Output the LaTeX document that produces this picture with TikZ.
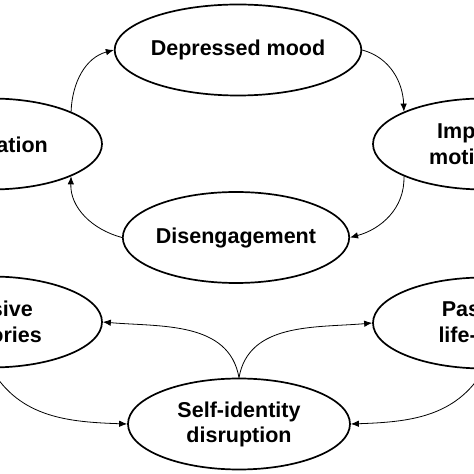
\documentclass[tikz,border=0pt]{standalone}
\usepackage{fontspec}
\setmainfont{Liberation Sans}
\usetikzlibrary{shapes.geometric,arrows.meta}
\tikzset{
  ell/.style={ellipse, draw=black, line width=1.7pt, minimum width=222pt, minimum height=91pt, inner sep=0pt,
    font=\fontsize{21.5}{25}\selectfont\bfseries, align=center},
  lbl/.style={inner sep=0pt, font=\fontsize{21.5}{25}\selectfont\bfseries},
  arr/.style={draw=black, line width=0.8pt, -{Latex[length=8pt,width=6.5pt]}}
}
\begin{document}
\begin{tikzpicture}[x=1pt,y=1pt]
\useasboundingbox (0,0) rectangle (474,474);
\clip (0,0) rectangle (474,474);
\fill[white] (0,0) rectangle (474,474);
% ellipses
\node[ell] (D) at (238,424) {Depressed mood};
\node[ell] (L1) at (-9,330) {};
\node[ell] (R1) at (484,330) {};
\node[ell] (Dis) at (236,236.5) {Disengagement};
\node[ell] (L2) at (-9,152) {};
\node[ell] (R2) at (484,151) {};
\node[ell] (S) at (239,50) {Self-identity\\disruption};
% partial labels
\node[lbl, anchor=east] (L1t) at (48,329) {ation};
\node[lbl, anchor=base west] (R1a) at (437,335) {Imp};
\node[lbl, anchor=base west] (R1b) at (429,309) {moti};
\node[lbl, anchor=base east] (L2a) at (33,157) {sive};
\node[lbl, anchor=base east] (L2b) at (42,131) {ories};
\node[lbl, anchor=base west] (R2a) at (441.7,157) {Pas};
\node[lbl, anchor=base west] (R2b) at (438.3,131) {life-};
% connectors
\draw[arr] (L1.22) to[out=88, in=195] (D.west);
\draw[arr] (D.east) to[out=-15, in=92] (R1.158);
\draw[arr] (R1.202) to[out=-88, in=15] (Dis.east);
\draw[arr] (Dis.west) to[out=165, in=-92] (L1.338);
\draw[arr] (S.north) to[out=100, in=-5] (L2.east);
\draw[arr] (S.north) to[out=80, in=185] (R2.west);
\draw[arr] (L2.south) to[out=-60, in=178] (S.west);
\draw[arr] (R2.south) to[out=-120, in=2] (S.east);
\end{tikzpicture}
\end{document}
